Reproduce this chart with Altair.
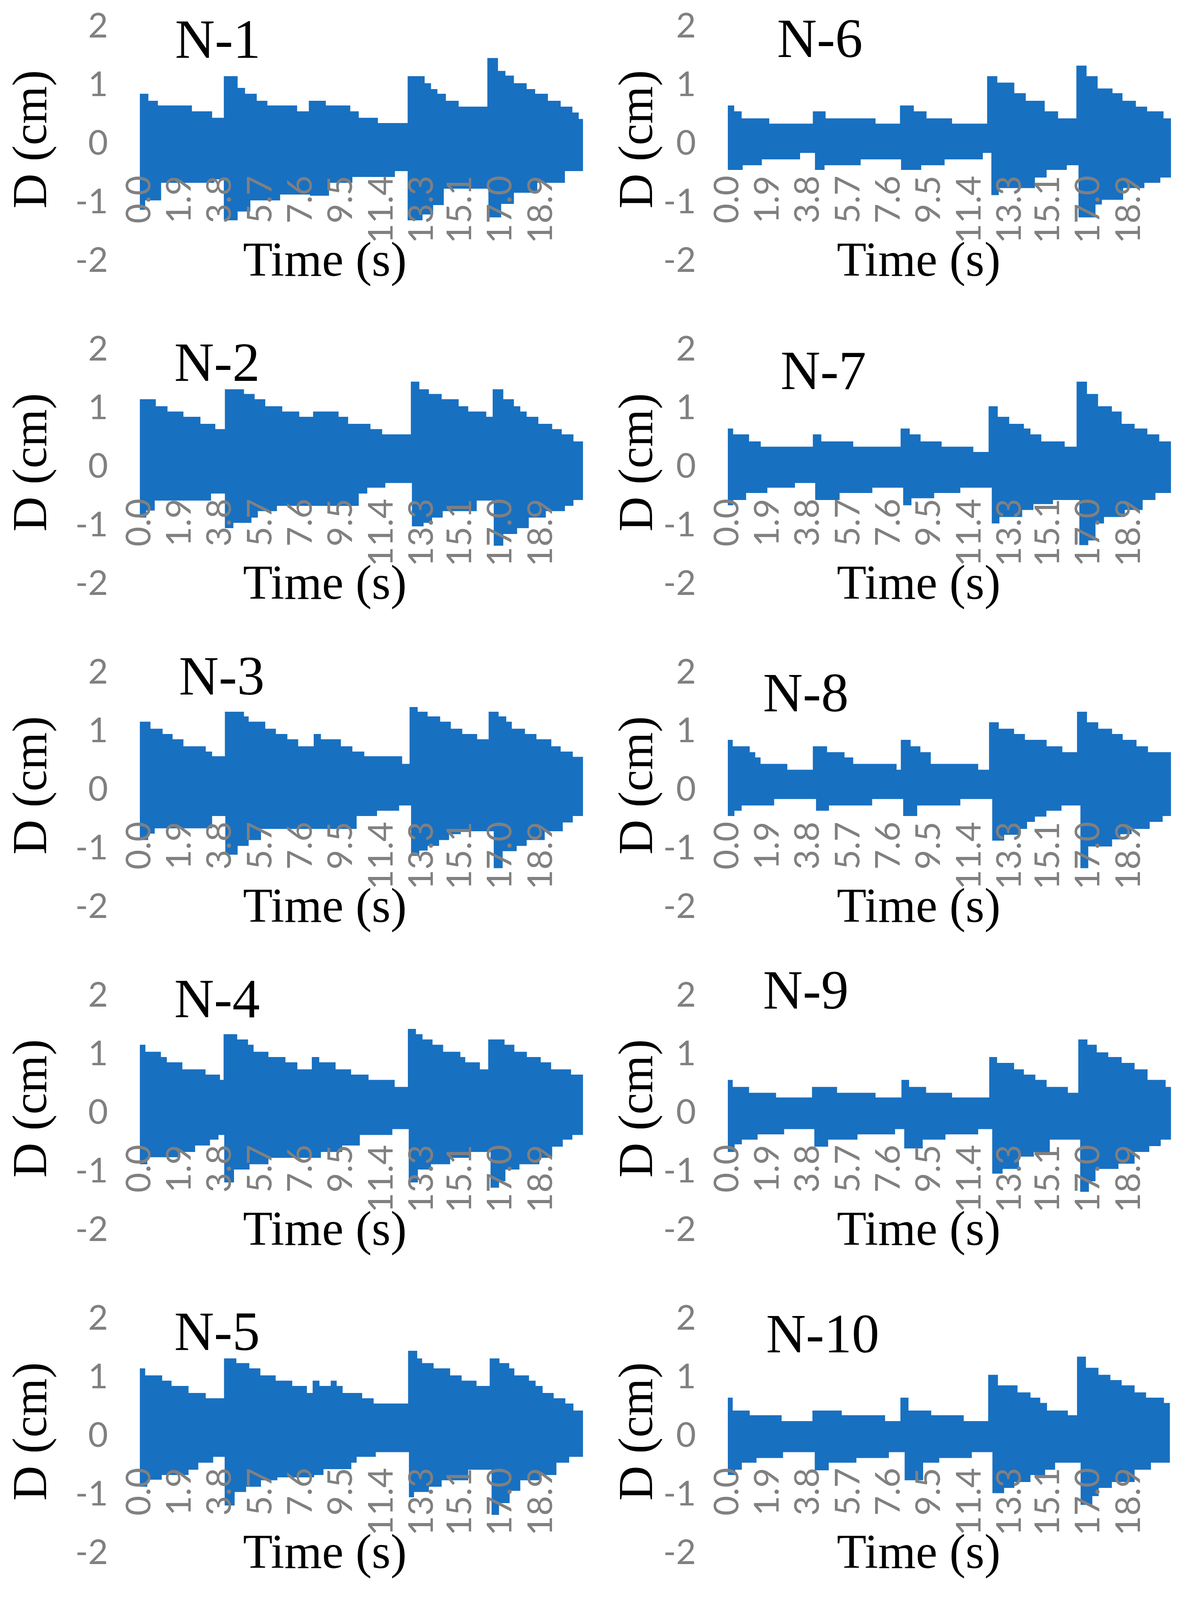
import altair as alt
import pandas as pd

# ---------------- data ----------------
PANEL_NAMES = ["N-1", "N-6", "N-2", "N-7", "N-3", "N-8", "N-4", "N-9", "N-5", "N-10"]
X_TICKS = [0.0, 1.9, 3.8, 5.7, 7.6, 9.5, 11.4, 13.3, 15.1, 17.0, 18.9]
Y_TICKS = [-2, -1, 0, 1, 2]

# envelope of the displacement record: (time s, D cm) at each step change
N1_UPPER = [(0.0, 0.86), (0.4, 0.74), (0.85, 0.66), (2.45, 0.56), (3.4, 0.45), (3.95, 1.16), (4.6, 0.96),
            (4.95, 0.86), (5.5, 0.74), (6.0, 0.66), (7.4, 0.56), (7.95, 0.74), (8.75, 0.66), (9.9, 0.56),
            (10.3, 0.45), (11.2, 0.36), (12.6, 1.16), (13.4, 1.04), (13.7, 0.94), (14.0, 0.86), (14.4, 0.74),
            (15.0, 0.64), (16.35, 1.47), (16.85, 1.25), (17.2, 1.17), (17.6, 1.04), (18.2, 0.94), (18.6, 0.86),
            (19.2, 0.74), (19.8, 0.64), (20.35, 0.54), (20.65, 0.43), (20.85, 0.43)]
N1_LOWER = [(0.0, -1.12), (0.25, -0.96), (1.0, -0.66), (3.5, -0.6), (3.95, -1.3), (4.6, -1.15), (5.2, -0.96),
            (6.6, -0.86), (8.0, -0.88), (8.9, -0.66), (10.0, -0.56), (12.0, -0.46), (12.6, -1.3), (13.3, -1.2),
            (13.8, -1.04), (14.3, -0.76), (16.4, -1.25), (17.0, -1.02), (17.6, -0.83), (18.7, -0.66),
            (20.0, -0.46), (20.85, -0.46)]

N2_UPPER = [(0.0, 1.16), (0.75, 1.04), (1.3, 0.95), (2.05, 0.86), (2.85, 0.74), (3.55, 0.65), (4.0, 1.33),
            (4.9, 1.25), (5.4, 1.16), (5.9, 1.04), (6.7, 0.95), (7.5, 0.86), (8.15, 0.95), (9.35, 0.86),
            (9.8, 0.74), (10.85, 0.65), (11.4, 0.56), (12.75, 1.46), (13.15, 1.33), (13.6, 1.25), (14.2, 1.16),
            (15.0, 1.04), (15.45, 0.95), (16.3, 0.86), (16.6, 1.33), (17.1, 1.16), (17.6, 1.04), (17.9, 0.95),
            (18.2, 0.86), (18.75, 0.74), (19.4, 0.65), (19.85, 0.56), (20.4, 0.44), (20.85, 0.44)]
N2_LOWER = [(0.0, -0.86), (0.3, -0.74), (0.7, -0.57), (3.35, -0.45), (4.0, -1.04), (4.4, -0.95), (5.25, -0.86),
            (5.55, -0.75), (6.45, -0.66), (10.3, -0.45), (10.7, -0.35), (11.55, -0.27), (12.8, -1.01),
            (13.35, -0.95), (13.75, -0.86), (14.25, -0.75), (15.85, -0.57), (16.65, -1.34), (17.1, -1.14),
            (17.75, -1.04), (18.3, -0.86), (19.1, -0.75), (20.0, -0.66), (20.4, -0.56), (20.85, -0.56)]

N3_UPPER = [(0.0, 1.17), (0.5, 1.05), (1.07, 0.96), (1.54, 0.87), (2.05, 0.75), (3.1, 0.66), (3.4, 0.58),
            (4.0, 1.34), (4.9, 1.26), (5.12, 1.17), (5.9, 1.05), (6.4, 0.96), (6.94, 0.87), (7.45, 0.75),
            (8.18, 0.96), (8.52, 0.87), (9.46, 0.75), (10.0, 0.66), (10.56, 0.58), (12.34, 0.45), (12.69, 1.42),
            (13.07, 1.34), (13.54, 1.26), (14.13, 1.17), (14.63, 1.05), (15.17, 0.96), (15.87, 0.87),
            (16.41, 1.34), (16.88, 1.26), (17.24, 1.17), (17.5, 1.05), (18.12, 0.96), (18.66, 0.87),
            (19.36, 0.75), (19.8, 0.66), (20.37, 0.57), (20.85, 0.57)]
N3_LOWER = [(0.0, -0.85), (0.39, -0.74), (0.7, -0.65), (3.4, -0.44), (4.02, -1.1), (4.6, -0.95), (5.12, -0.85),
            (5.7, -0.66), (10.2, -0.44), (11.16, -0.35), (12.2, -0.26), (12.76, -1.12), (13.15, -1.03),
            (13.54, -0.95), (14.08, -0.85), (14.55, -0.75), (15.1, -0.7), (16.65, -1.33), (17.07, -1.04),
            (17.73, -0.95), (18.2, -0.85), (19.05, -0.7), (19.9, -0.55), (20.37, -0.44), (20.85, -0.44)]

N4_UPPER = [(0.0, 1.17), (0.26, 1.05), (0.99, 0.96), (1.27, 0.87), (2.0, 0.75), (3.09, 0.66), (3.77, 0.57),
            (3.94, 1.35), (4.58, 1.26), (5.09, 1.17), (5.35, 1.05), (6.05, 0.96), (6.85, 0.87), (7.41, 0.75),
            (8.09, 0.96), (8.44, 0.87), (9.21, 0.75), (9.94, 0.66), (10.76, 0.57), (11.99, 0.45), (12.61, 1.44),
            (12.99, 1.35), (13.3, 1.26), (13.77, 1.17), (14.27, 1.05), (15.08, 0.96), (15.31, 0.87),
            (16.0, 0.75), (16.39, 1.26), (17.16, 1.17), (17.62, 1.05), (18.21, 0.96), (18.86, 0.87),
            (19.35, 0.75), (20.29, 0.66), (20.85, 0.66)]
N4_LOWER = [(0.0, -0.87), (0.35, -0.75), (1.9, -0.66), (2.6, -0.55), (3.3, -0.45), (3.7, -0.37), (3.97, -1.18),
            (4.43, -0.96), (5.16, -0.87), (6.05, -0.76), (8.52, -0.66), (9.52, -0.55), (10.35, -0.37),
            (11.88, -0.27), (12.65, -1.18), (13.08, -0.96), (13.7, -0.87), (14.6, -0.76), (15.55, -0.66),
            (16.5, -1.27), (16.9, -1.16), (17.2, -0.96), (17.86, -0.87), (18.8, -0.76), (19.4, -0.57),
            (19.9, -0.45), (20.35, -0.37), (20.85, -0.37)]

N5_UPPER = [(0.0, 1.16), (0.25, 1.04), (1.05, 0.95), (1.49, 0.86), (2.29, 0.74), (3.1, 0.65), (3.96, 1.33),
            (4.54, 1.25), (5.15, 1.16), (5.67, 1.04), (6.39, 0.95), (7.17, 0.86), (7.86, 0.74), (8.13, 0.95),
            (8.45, 0.86), (8.98, 0.95), (9.26, 0.86), (9.54, 0.74), (10.46, 0.65), (11.0, 0.56), (12.62, 1.46),
            (13.05, 1.33), (13.28, 1.25), (13.82, 1.16), (14.6, 1.04), (15.14, 0.95), (15.84, 0.86),
            (16.46, 1.33), (16.92, 1.25), (17.38, 1.16), (17.62, 1.04), (18.31, 0.95), (18.62, 0.86),
            (18.95, 0.74), (19.47, 0.65), (20.02, 0.56), (20.4, 0.44), (20.85, 0.44)]
N5_LOWER = [(0.0, -0.86), (0.35, -0.74), (1.03, -0.66), (2.29, -0.57), (2.75, -0.45), (3.45, -0.35),
            (3.99, -1.18), (4.46, -0.95), (5.0, -0.86), (5.7, -0.75), (6.47, -0.7), (8.2, -0.66), (8.64, -0.56),
            (9.95, -0.45), (10.2, -0.35), (11.1, -0.27), (12.66, -1.04), (12.9, -0.95), (13.6, -0.86),
            (14.2, -0.75), (15.45, -0.57), (16.55, -1.34), (16.9, -1.14), (17.4, -0.93), (17.9, -0.75),
            (18.9, -0.66), (19.6, -0.45), (20.2, -0.35), (20.85, -0.35)]

N6_UPPER = [(0.0, 0.66), (0.3, 0.56), (0.65, 0.44), (1.95, 0.35), (4.0, 0.56), (4.6, 0.44), (6.95, 0.35),
            (8.1, 0.66), (8.75, 0.56), (9.35, 0.44), (10.55, 0.35), (12.2, 1.16), (12.68, 1.05), (13.48, 0.87),
            (14.02, 0.74), (14.91, 0.56), (15.54, 0.44), (16.4, 1.34), (16.88, 1.16), (17.4, 0.95),
            (18.1, 0.87), (18.57, 0.74), (19.2, 0.64), (19.73, 0.56), (20.5, 0.44), (20.85, 0.44)]
N6_LOWER = [(0.0, -0.44), (0.7, -0.36), (1.6, -0.26), (3.4, -0.15), (4.1, -0.44), (4.55, -0.36), (6.25, -0.26),
            (8.15, -0.44), (9.1, -0.36), (10.2, -0.26), (12.0, -0.15), (12.4, -0.87), (12.75, -0.75),
            (14.45, -0.57), (15.0, -0.44), (15.95, -0.36), (16.5, -1.25), (17.3, -1.03), (17.6, -0.95),
            (18.6, -0.75), (19.6, -0.66), (20.35, -0.57), (20.85, -0.57)]

N7_UPPER = [(0.0, 0.66), (0.25, 0.56), (1.0, 0.44), (1.55, 0.35), (4.0, 0.56), (4.4, 0.44), (5.9, 0.35),
            (8.13, 0.66), (8.56, 0.56), (9.07, 0.44), (10.06, 0.35), (11.55, 0.26), (12.27, 1.04), (12.7, 0.86),
            (13.24, 0.74), (13.93, 0.66), (14.24, 0.56), (14.75, 0.44), (15.85, 0.35), (16.41, 1.46),
            (16.9, 1.25), (17.42, 1.04), (18.07, 0.95), (18.53, 0.74), (19.14, 0.66), (19.74, 0.56),
            (20.3, 0.44), (20.85, 0.44)]
N7_LOWER = [(0.0, -0.65), (0.25, -0.56), (0.86, -0.44), (1.86, -0.35), (3.16, -0.27), (4.11, -0.56),
            (5.26, -0.44), (6.8, -0.35), (8.25, -0.65), (8.64, -0.53), (9.71, -0.44), (10.94, -0.35),
            (12.42, -0.96), (12.78, -0.85), (13.85, -0.73), (14.38, -0.63), (15.3, -0.56), (16.54, -1.33),
            (16.96, -1.25), (17.3, -0.96), (17.7, -0.85), (18.68, -0.73), (19.52, -0.56), (20.12, -0.44),
            (20.85, -0.44)]

N8_UPPER = [(0.0, 0.86), (0.23, 0.75), (1.03, 0.65), (1.29, 0.56), (1.54, 0.45), (2.8, 0.35), (4.0, 0.75),
            (4.67, 0.65), (5.49, 0.56), (5.9, 0.45), (7.94, 0.35), (8.14, 0.86), (8.6, 0.75), (9.06, 0.65),
            (9.55, 0.45), (11.78, 0.35), (12.29, 1.16), (12.75, 1.05), (13.47, 0.96), (13.98, 0.86),
            (15.0, 0.75), (15.74, 0.65), (16.43, 1.34), (16.9, 1.16), (17.43, 1.05), (18.08, 0.96),
            (18.58, 0.86), (19.23, 0.75), (19.77, 0.65), (20.85, 0.65)]
N8_LOWER = [(0.0, -0.44), (0.31, -0.35), (0.65, -0.26), (2.18, -0.15), (4.15, -0.35), (4.76, -0.26),
            (6.79, -0.15), (8.25, -0.44), (8.91, -0.26), (10.94, -0.15), (12.44, -0.86), (13.0, -0.76),
            (13.7, -0.66), (14.08, -0.54), (14.45, -0.45), (14.99, -0.35), (15.7, -0.26), (16.59, -1.33),
            (16.96, -0.96), (18.08, -0.84), (18.47, -0.75), (19.0, -0.66), (19.85, -0.54), (20.46, -0.44),
            (20.85, -0.44)]

N9_UPPER = [(0.0, 0.57), (0.23, 0.45), (1.0, 0.35), (2.27, 0.27), (3.96, 0.45), (5.14, 0.35), (6.95, 0.27),
            (8.17, 0.57), (8.53, 0.45), (9.33, 0.35), (10.55, 0.27), (12.3, 0.96), (12.67, 0.86), (13.47, 0.75),
            (13.93, 0.66), (14.47, 0.57), (15.0, 0.45), (16.0, 0.35), (16.49, 1.26), (16.92, 1.17),
            (17.36, 1.04), (17.9, 0.96), (18.53, 0.86), (19.14, 0.75), (19.75, 0.57), (20.6, 0.45),
            (20.85, 0.45)]
N9_LOWER = [(0.0, -0.66), (0.32, -0.53), (0.66, -0.45), (1.4, -0.36), (2.65, -0.27), (4.07, -0.57),
            (4.72, -0.45), (6.1, -0.36), (7.87, -0.27), (8.3, -0.6), (9.17, -0.45), (10.24, -0.36),
            (11.78, -0.27), (12.44, -1.03), (12.93, -0.95), (13.7, -0.74), (14.4, -0.66), (15.15, -0.45),
            (16.58, -1.34), (16.99, -1.16), (17.3, -0.95), (18.38, -0.86), (19.14, -0.66), (19.83, -0.56),
            (20.37, -0.45), (20.85, -0.45)]

N10_UPPER = [(0.0, 0.66), (0.23, 0.44), (1.03, 0.36), (2.53, 0.26), (3.98, 0.44), (5.36, 0.36), (7.4, 0.26),
             (8.12, 0.66), (8.5, 0.44), (9.57, 0.36), (11.1, 0.26), (12.25, 1.05), (12.71, 0.87), (13.63, 0.75),
             (14.24, 0.66), (14.7, 0.57), (15.02, 0.44), (16.0, 0.36), (16.43, 1.36), (16.85, 1.17),
             (17.44, 1.05), (18.0, 0.96), (18.53, 0.87), (19.14, 0.75), (19.68, 0.66), (20.52, 0.57),
             (20.8, 0.57)]
N10_LOWER = [(0.0, -0.66), (0.35, -0.57), (0.66, -0.45), (1.35, -0.37), (2.6, -0.27), (4.09, -0.58),
             (4.75, -0.45), (6.05, -0.37), (7.58, -0.27), (8.32, -0.75), (9.19, -0.45), (9.95, -0.37),
             (11.48, -0.27), (12.45, -0.97), (13.0, -0.88), (13.48, -0.78), (14.24, -0.66), (14.93, -0.57),
             (15.4, -0.45), (16.6, -1.17), (17.15, -1.02), (17.45, -0.88), (18.07, -0.78), (19.14, -0.57),
             (19.91, -0.45), (20.8, -0.45)]

PANEL_DATA = {
    "N-1": (N1_UPPER, N1_LOWER), "N-2": (N2_UPPER, N2_LOWER), "N-3": (N3_UPPER, N3_LOWER),
    "N-4": (N4_UPPER, N4_LOWER), "N-5": (N5_UPPER, N5_LOWER), "N-6": (N6_UPPER, N6_LOWER),
    "N-7": (N7_UPPER, N7_LOWER), "N-8": (N8_UPPER, N8_LOWER), "N-9": (N9_UPPER, N9_LOWER),
    "N-10": (N10_UPPER, N10_LOWER),
}

# ---------------- layout / style ----------------
W, H = 1137, 600
ROW_SPACING, COL_SPACING = 227, 368
AXIS_OFFSET = -220          # x labels start a little below the zero line
TIME_TITLE_Y = 219
D_TITLE_Y = 287
BLUE = "#1870c1"
GRAY = "#808080"
SERIF = "Liberation Serif"
SANS = "Lato"
LABEL_SIZE = 88
AXIS_TITLE_SIZE = 124
PANEL_TITLE_SIZE = 141
# per panel title placement: (px right of plot left, px above the zero line)
TITLE_POS = {
    "N-1": (90, 221), "N-2": (88, 221), "N-3": (100, 245), "N-4": (88, 246), "N-5": (88, 221),
    "N-6": (126, 223), "N-7": (135, 200), "N-8": (90, 202), "N-9": (90, 268), "N-10": (98, 215),
}
RIGHT_COLUMN = {"N-6", "N-7", "N-8", "N-9", "N-10"}


def panel(name):
    upper, lower = PANEL_DATA[name]
    right = name in RIGHT_COLUMN
    up = pd.DataFrame(upper, columns=["t", "d"])
    lo = pd.DataFrame(lower, columns=["t", "d"])

    xaxis = alt.Axis(
        values=X_TICKS, format=".1f", labelAngle=270, labelAlign="right", labelBaseline="middle",
        labelFont=SANS, labelFontSize=LABEL_SIZE, labelColor=GRAY, labelPadding=0, labelLimit=1000,
        ticks=False, tickSize=0, domain=False, grid=False, offset=AXIS_OFFSET, zindex=1,
        labelFlush=False, labelOverlap=False,
        title="Time (s)", titleFont=SERIF, titleFontSize=AXIS_TITLE_SIZE, titleFontWeight="normal",
        titleColor="black", titleX=488 if right else 473, titleY=TIME_TITLE_Y, titleAlign="center",
        titleBaseline="middle",
    )
    yaxis = alt.Axis(
        values=Y_TICKS, labelExpr="'' + datum.value", labelFont=SANS, labelFontSize=LABEL_SIZE,
        labelColor=GRAY, labelPadding=82, ticks=False, tickSize=0, domain=False, grid=False,
        title="D (cm)", titleFont=SERIF, titleFontSize=AXIS_TITLE_SIZE, titleFontWeight="normal",
        titleColor="black", titleAngle=270, titleX=-232 if right else -278, titleY=D_TITLE_Y,
        titleAlign="center", titleBaseline="middle",
    )
    x = alt.X("t:Q", scale=alt.Scale(domain=[0, 20.9], nice=False, zero=False), axis=xaxis)
    y = alt.Y("d:Q", scale=alt.Scale(domain=[-2, 2], nice=False), axis=yaxis)

    a_up = alt.Chart(up).mark_area(interpolate="step-after", color=BLUE, opacity=1).encode(
        x=x, y=y, y2=alt.datum(0))
    a_lo = alt.Chart(lo).mark_area(interpolate="step-after", color=BLUE, opacity=1).encode(
        x=x, y=y, y2=alt.datum(0))
    dx, up_px = TITLE_POS[name]
    label = alt.Chart(pd.DataFrame({"name": [name]})).mark_text(
        font=SERIF, fontSize=PANEL_TITLE_SIZE, color="black", align="left", baseline="alphabetic"
    ).encode(text="name:N", x=alt.value(dx), y=alt.value(H / 2 - up_px))
    return alt.layer(a_up, a_lo, label).properties(width=W, height=H)


chart = alt.concat(
    *[panel(n) for n in PANEL_NAMES],
    columns=2,
    spacing=alt.RowColnumber(row=ROW_SPACING, column=COL_SPACING),
    bounds="flush",
).properties(
    padding={"top": 17, "left": 10, "right": 0, "bottom": 18},
    background="white",
).configure_view(stroke=None)

chart.save("out.html", embed_options={"renderer": "svg", "actions": False})
